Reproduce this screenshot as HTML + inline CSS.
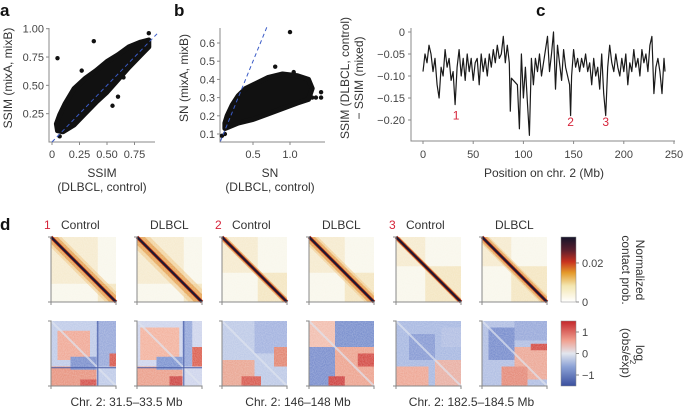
<!DOCTYPE html>
<html><head><meta charset="utf-8">
<style>
html,body{margin:0;padding:0;background:#fff;}
svg{display:block;font-family:"Liberation Sans",sans-serif;}
.tk{font-size:11px;fill:#444;}
.lb{font-size:12px;fill:#333;}
.pl{font-size:17px;font-weight:bold;fill:#111;}
.ax{stroke:#888;stroke-width:1;fill:none;}
</style></head>
<body>
<svg id="fig" width="685" height="410" viewBox="0 0 685 410" xmlns="http://www.w3.org/2000/svg">
<defs>
<linearGradient id="cbTop" x1="0" y1="1" x2="0" y2="0">
<stop offset="0" stop-color="#ffffff"/><stop offset="0.25" stop-color="#f3e6b0"/><stop offset="0.45" stop-color="#e49a2a"/><stop offset="0.62" stop-color="#c8311f"/><stop offset="0.8" stop-color="#5a1f2e"/><stop offset="1" stop-color="#14142a"/>
</linearGradient>
<linearGradient id="cbBot" x1="0" y1="1" x2="0" y2="0">
<stop offset="0" stop-color="#3a4f9e"/><stop offset="0.3" stop-color="#8da3d6"/><stop offset="0.5" stop-color="#e2e6ee"/><stop offset="0.7" stop-color="#f0a090"/><stop offset="1" stop-color="#c4262a"/>
</linearGradient>
<filter id="noise" x="0" y="0" width="1" height="1"><feTurbulence type="fractalNoise" baseFrequency="0.9" numOctaves="1" seed="3"/><feColorMatrix values="0 0 0 0 1  0 0 0 0 1  0 0 0 0 1  0 0 0 0.5 0"/><feComposite in2="SourceGraphic" operator="in"/></filter>
</defs>
<g id="pa"></g>
<g id="pb"></g>
<g id="pc"></g>
<g id="pd"></g>
</svg>
<script>
// ---- Panel a data ----
const aTicksY=[0.25,0.50,0.75,1.00];
const aTicksX=[0,0.25,0.50,0.75];
const aCloudX=[0.05,0.1,0.2,0.3,0.4,0.5,0.6,0.7,0.8,0.88,0.88,0.8,0.7,0.6,0.5,0.4,0.3,0.2,0.12,0.07,0.04];
const aCloudY=[0.10,0.09,0.15,0.25,0.35,0.44,0.55,0.66,0.76,0.84,0.90,0.88,0.84,0.77,0.71,0.63,0.56,0.47,0.34,0.24,0.16];
const aOutX=[0.05,0.38,0.88,0.27,0.55,0.60,0.52,0.65,0.07];
const aOutY=[0.74,0.89,0.96,0.63,0.32,0.40,0.47,0.57,0.05];
// ---- Panel b data ----
const bTicksY=[0.1,0.2,0.3,0.4,0.5,0.6];
const bTicksX=[0.5,1.0];
const bCloudX=[0.12,0.3,0.5,0.7,0.9,1.1,1.25,1.3,1.25,1.1,0.9,0.7,0.5,0.4,0.3,0.22,0.15,0.12];
const bCloudY=[0.13,0.16,0.18,0.21,0.24,0.27,0.29,0.35,0.40,0.42,0.43,0.41,0.37,0.35,0.31,0.26,0.20,0.16];
const bOutX=[1.0,0.8,1.42,1.42,1.35,1.30,0.12,0.08,1.05];
const bOutY=[0.66,0.47,0.33,0.30,0.30,0.30,0.10,0.09,0.44];
// ---- Panel c data ----
const cTicksY=[0,-0.05,-0.10,-0.15,-0.20];
const cTicksX=[0,50,100,150,200,250];
const cPos=[0,2,4,6,8,10,12,14,16,18,20,22,24,26,28,30,32,34,36,38,40,42,44,46,48,50,52,54,56,58,60,62,64,66,68,70,72,74,76,78,80,82,84,86,87,88,94,96,98,100,102,104,106,108,110,112,114,116,118,120,122,124,126,128,130,132,134,136,138,140,142,144,146,147,148,150,152,154,156,158,160,162,164,166,168,170,172,174,176,178,180,182,184,186,188,190,192,194,196,198,200,202,204,206,208,210,212,214,216,218,220,222,224,226,228,230,232,234,236,238,240,241];
const cVal=[-0.09,-0.05,-0.07,-0.03,-0.05,-0.09,-0.06,-0.12,-0.15,-0.08,-0.10,-0.04,-0.08,-0.06,-0.11,-0.09,-0.165,-0.08,-0.04,-0.10,-0.06,-0.11,-0.05,-0.09,-0.06,-0.11,-0.07,-0.06,-0.12,-0.05,-0.09,-0.06,-0.10,-0.05,-0.08,-0.04,-0.07,-0.03,-0.06,-0.05,-0.01,-0.07,-0.03,-0.07,-0.18,-0.105,-0.12,-0.22,-0.05,-0.15,-0.08,-0.16,-0.235,-0.06,-0.12,-0.06,-0.09,-0.05,-0.10,-0.07,-0.04,-0.01,-0.09,-0.05,0.0,-0.13,-0.03,-0.07,-0.11,-0.04,-0.08,-0.10,-0.12,-0.19,-0.10,-0.04,-0.08,-0.06,-0.09,-0.06,-0.08,-0.05,-0.09,-0.07,-0.12,-0.06,-0.10,-0.08,-0.13,-0.05,-0.14,-0.19,-0.08,-0.03,-0.07,-0.09,-0.05,-0.08,-0.10,-0.06,-0.09,-0.05,-0.12,-0.07,-0.09,-0.04,-0.08,-0.06,-0.10,-0.04,-0.07,-0.05,-0.09,-0.03,-0.01,-0.14,-0.08,-0.06,-0.09,-0.14,-0.06,-0.09];
const cMarks=["1","2","3"];
const cMarkPos=[33,147,182];
const cMarkVal=[-0.19,-0.205,-0.205];
// ---- Panel d ----
const dTitles=["Control","DLBCL","Control","DLBCL","Control","DLBCL"];
const dRegions=["Chr. 2: 31.5–33.5 Mb","Chr. 2: 146–148 Mb","Chr. 2: 182.5–184.5 Mb"];
const cbTopTicks=[0,0.02];
const cbBotTicks=[1,0,-1];

const NS="http://www.w3.org/2000/svg";
function mk(parent,tag,attrs,text){const e=document.createElementNS(NS,tag);for(const k in attrs)e.setAttribute(k,attrs[k]);if(text!==undefined)e.textContent=text;parent.appendChild(e);return e;}

// ===== Panel a =====
(function(){
const g=document.getElementById('pa');
const sx=v=>52+v*110, sy=v=>142-v*113.3;
let t=mk(g,'text',{x:0,y:16,class:'pl'},'a');


let ax=mk(g,'path',{d:'M49,28 V142 H155',class:'ax'});


aTicksY.forEach(v=>{mk(g,'line',{x1:46,x2:49,y1:sy(v),y2:sy(v),stroke:'#888'});
 let l=mk(g,'text',{x:44,y:sy(v)+4,'text-anchor':'end',class:'tk'},v.toFixed(2));
 
 });
aTicksX.forEach(v=>{mk(g,'line',{x1:sx(v),x2:sx(v),y1:142,y2:145,stroke:'#888'});
 let l=mk(g,'text',{x:sx(v),y:158,'text-anchor':'middle',class:'tk'},v===0?'0':v.toFixed(2));
 
 });
let pts=aCloudX.map((x,i)=>sx(x)+','+sy(aCloudY[i])).join(' ');
let cl=mk(g,'polygon',{points:pts,fill:'#111',stroke:'#111','stroke-width':5,'stroke-linejoin':'round'});


aOutX.forEach((x,i)=>{let c=mk(g,'circle',{cx:sx(x),cy:sy(aOutY[i]),r:2.2,fill:'#111'});
 
 });
let dl=mk(g,'line',{x1:sx(0),y1:sy(0),x2:sx(0.955),y2:sy(0.955),stroke:'#3a5bc7','stroke-width':1,'stroke-dasharray':'4,3'});


let xl=mk(g,'text',{x:102,y:177,'text-anchor':'middle',class:'lb'},'SSIM');


mk(g,'text',{x:102,y:191,'text-anchor':'middle',class:'lb'},'(DLBCL, control)');
let yl=mk(g,'text',{x:0,y:0,'text-anchor':'middle',class:'lb',transform:'translate(12,78) rotate(-90)'},'SSIM (mixA, mixB)');


})();

// ===== Panel b =====
(function(){
const g=document.getElementById('pb');
const sx=v=>216+v*74, sy=v=>134-(v-0.1)*182;
let t=mk(g,'text',{x:174,y:16,class:'pl'},'b');


let ax=mk(g,'path',{d:'M220,28 V142 H325',class:'ax'});


bTicksY.forEach(v=>{mk(g,'line',{x1:217,x2:220,y1:sy(v),y2:sy(v),stroke:'#888'});
 let l=mk(g,'text',{x:215,y:sy(v)+4,'text-anchor':'end',class:'tk'},v.toFixed(1));
 
 });
bTicksX.forEach(v=>{mk(g,'line',{x1:sx(v),x2:sx(v),y1:142,y2:145,stroke:'#888'});
 let l=mk(g,'text',{x:sx(v),y:158,'text-anchor':'middle',class:'tk'},v.toFixed(1));
 
 });
let pts=bCloudX.map((x,i)=>sx(x)+','+sy(bCloudY[i])).join(' ');
let cl=mk(g,'polygon',{points:pts,fill:'#111',stroke:'#111','stroke-width':5,'stroke-linejoin':'round'});


bOutX.forEach((x,i)=>{let c=mk(g,'circle',{cx:sx(x),cy:sy(bOutY[i]),r:2.2,fill:'#111'});
 
 });
let dl=mk(g,'line',{x1:sx(0.06),y1:sy(0.06),x2:sx(0.69),y2:sy(0.69),stroke:'#3a5bc7','stroke-width':1,'stroke-dasharray':'4,3'});


let xl=mk(g,'text',{x:270,y:177,'text-anchor':'middle',class:'lb'},'SN');


mk(g,'text',{x:270,y:191,'text-anchor':'middle',class:'lb'},'(DLBCL, control)');
let yl=mk(g,'text',{x:0,y:0,'text-anchor':'middle',class:'lb',transform:'translate(188,78) rotate(-90)'},'SN (mixA, mixB)');


})();

// ===== Panel c =====
(function(){
const g=document.getElementById('pc');
const sx=v=>423+v*1.004, sy=v=>32-v/0.05*22;
let t=mk(g,'text',{x:536,y:16,class:'pl'},'c');


let ax=mk(g,'path',{d:'M411,28 V141 H675',class:'ax'});


cTicksY.forEach(v=>{mk(g,'line',{x1:408,x2:411,y1:sy(v),y2:sy(v),stroke:'#888'});
 let l=mk(g,'text',{x:405,y:sy(v)+4,'text-anchor':'end',class:'tk'},v===0?'0':'−'+Math.abs(v).toFixed(2));
 
 });
cTicksX.forEach(v=>{mk(g,'line',{x1:sx(v),x2:sx(v),y1:141,y2:144,stroke:'#888'});
 let l=mk(g,'text',{x:sx(v),y:158,'text-anchor':'middle',class:'tk'},String(v));
 
 });
let d=cPos.map((x,i)=>(i?'L':'M')+sx(x).toFixed(1)+','+sy(cVal[i]).toFixed(1)).join(' ');
let ln=mk(g,'path',{d:d,fill:'none',stroke:'#1a1a1a','stroke-width':1.2,'stroke-linejoin':'round'});


cMarks.forEach((m,i)=>{let l=mk(g,'text',{x:sx(cMarkPos[i]),y:sy(cMarkVal[i])+4,'text-anchor':'middle',style:'font-size:12px;fill:#d6243a'},m);
 
 });
let xl=mk(g,'text',{x:544,y:177,'text-anchor':'middle',class:'lb'},'Position on chr. 2 (Mb)');


let yl=mk(g,'text',{x:0,y:0,'text-anchor':'middle',class:'lb',transform:'translate(349,78) rotate(-90)'},'SSIM (DLBCL, control)');


mk(g,'text',{x:0,y:0,'text-anchor':'middle',class:'lb',transform:'translate(363,78) rotate(-90)'},'− SSIM (mixed)');
})();

// ===== Panel d =====
(function(){
const g=document.getElementById('pd');
const xs=[51,137,222,309,396,482], W=65, topY=237, botY=321;
let t=mk(g,'text',{x:0,y:230,class:'pl'},'d');


const tadBreak=[0.72,0.72,0.55,0.55,0.45,0.45];
const bandW=[0.16,0.2,0.07,0.14,0.05,0.11];
const botLayouts=[
 [[0,0,1,1,'#b9c6e6'],[0.1,0.15,0.6,0.6,'#eea08c'],[0,0.7,0.7,1,'#e58a74'],[0.7,0,1,0.7,'#8ea0d6'],[0.3,0.55,0.7,0.75,'#6f85c8'],[0.9,0.5,1,0.7,'#d4483c'],[0.45,0.9,0.7,1,'#d0403a']],
 [[0,0,1,1,'#c9d0ea'],[0.05,0.1,0.65,0.6,'#f2ab95'],[0,0.7,0.7,1,'#e99680'],[0.7,0,0.85,0.7,'#8a9ed6'],[0.3,0.55,0.7,0.75,'#7089cc'],[0.85,0.4,1,0.7,'#d8503f'],[0.5,0.85,0.7,1,'#c83532']],
 [[0,0,1,1,'#b7c4e4'],[0,0.6,0.5,1,'#e79d88'],[0.5,0,1,0.5,'#9aabdc'],[0.8,0.4,1,0.7,'#df7a64'],[0.3,0.85,0.6,1,'#d44a3e']],
 [[0,0,1,1,'#c3cbe8'],[0,0,0.4,0.4,'#f0b7a6'],[0.4,0,1,0.4,'#6c84c8'],[0,0.4,0.4,1,'#6d83c8'],[0.4,0.4,1,1,'#eb9a84'],[0.75,0.5,1,0.7,'#cf3a33'],[0.3,0.85,0.55,1,'#c9302e']],
 [[0,0,1,1,'#9fb1de'],[0.2,0.2,0.6,0.6,'#7b90cf'],[0.6,0.6,1,1,'#e6a79a'],[0,0.7,0.5,1,'#ec9e8a'],[0.7,0.1,1,0.4,'#aab8e0']],
 [[0,0,1,1,'#a9b8e0'],[0.1,0.1,0.5,0.6,'#6b82c8'],[0.5,0.4,1,0.9,'#ea9f8c'],[0.3,0.7,0.7,1,'#e27f6c'],[0.75,0.35,1,0.45,'#cf3a33'],[0.5,0,1,0.3,'#8ea0d6']]
];
xs.forEach((x0,i)=>{
 if(i%2===0){let n=mk(g,'text',{x:x0-7,y:229,style:'font-size:12px;fill:#d6243a'},String(i/2+1));
  
  }
 let ti=mk(g,'text',{x:i%2===0?x0+10:x0+13,y:229,class:'lb'},dTitles[i]);
 
 
 let tg=mk(g,'g',{});
 
 
 mk(tg,'rect',{x:x0,y:topY,width:W,height:W,fill:'#f8f6ea'});
 const b=tadBreak[i]*W, bw=bandW[i]*W;
 mk(tg,'polygon',{points:`${x0},${topY} ${x0+b},${topY} ${x0+b},${topY+b} ${x0},${topY+b}`,fill:'#f3e4bd',opacity:0.7});
 mk(tg,'polygon',{points:`${x0+b},${topY+b} ${x0+W},${topY+b} ${x0+W},${topY+W} ${x0+b},${topY+W}`,fill:'#f1ddaa',opacity:0.7});
 mk(tg,'polygon',{points:`${x0},${topY} ${x0+bw},${topY} ${x0+W},${topY+W-bw} ${x0+W},${topY+W} ${x0+W-bw},${topY+W} ${x0},${topY+bw}`,fill:'#eec27a',opacity:0.6});
 const bw2=bw*0.45+2;
 mk(tg,'polygon',{points:`${x0},${topY} ${x0+bw2},${topY} ${x0+W},${topY+W-bw2} ${x0+W},${topY+W} ${x0+W-bw2},${topY+W} ${x0},${topY+bw2}`,fill:'#e08a2c',opacity:0.7});
 mk(tg,'rect',{x:x0,y:topY,width:W,height:W,fill:'#fff',filter:'url(#noise)',opacity:0.7});
 mk(tg,'line',{x1:x0,y1:topY,x2:x0+W,y2:topY+W,stroke:'#b8321c','stroke-width':3.5});
 mk(tg,'line',{x1:x0,y1:topY,x2:x0+W,y2:topY+W,stroke:'#1c1830','stroke-width':2});
 mk(tg,'path',{d:`M${x0-3},${topY} H${x0} V${topY+W+3} M${x0-3},${topY+W} H${x0+W} V${topY+W+3}`,class:'ax'});
 let bg=mk(g,'g',{});
 
 
 botLayouts[i].forEach(r=>{mk(bg,'rect',{x:x0+r[0]*W,y:botY+r[1]*W,width:(r[2]-r[0])*W,height:(r[3]-r[1])*W,fill:r[4]});});
 mk(bg,'rect',{x:x0,y:botY,width:W,height:W,fill:'#fff',filter:'url(#noise)',opacity:0.8});
 mk(bg,'line',{x1:x0,y1:botY,x2:x0+W,y2:botY+W,stroke:'#dfe4ef','stroke-width':2,opacity:0.7});
 if(i<2){mk(bg,'line',{x1:x0,y1:botY+0.72*W,x2:x0+W,y2:botY+0.72*W,stroke:'#4a5ea8','stroke-width':1});
  mk(bg,'line',{x1:x0+0.72*W,y1:botY,x2:x0+0.72*W,y2:botY+W,stroke:'#4a5ea8','stroke-width':1});}
 mk(bg,'path',{d:`M${x0-3},${botY} H${x0} V${botY+W+3} M${x0-3},${botY+W} H${x0+W} V${botY+W+3}`,class:'ax'});
});
dRegions.forEach((r,i)=>{let l=mk(g,'text',{x:(xs[2*i]+xs[2*i+1]+W)/2,y:406,'text-anchor':'middle',class:'lb'},r);
 
 });
let c1=mk(g,'rect',{x:561,y:237,width:15,height:65,fill:'url(#cbTop)',stroke:'#888','stroke-width':0.5});


const cs1=v=>302-v/0.0333*65;
cbTopTicks.forEach(v=>{mk(g,'line',{x1:576,x2:579,y1:cs1(v),y2:cs1(v),stroke:'#888'});
 mk(g,'text',{x:582,y:cs1(v)+4,class:'tk'},v===0?'0':String(v));});
let c2=mk(g,'rect',{x:561,y:321,width:15,height:65,fill:'url(#cbBot)',stroke:'#888','stroke-width':0.5});


const cs2=v=>353.5-v*21.5;
cbBotTicks.forEach(v=>{mk(g,'line',{x1:576,x2:579,y1:cs2(v),y2:cs2(v),stroke:'#888'});
 mk(g,'text',{x:582,y:cs2(v)+4,class:'tk'},v<0?'−'+Math.abs(v):String(v));});
let t1=mk(g,'text',{x:0,y:0,'text-anchor':'middle',class:'lb',transform:'translate(636,270) rotate(90)'},'Normalized');


mk(g,'text',{x:0,y:0,'text-anchor':'middle',class:'lb',transform:'translate(622,270) rotate(90)'},'contact prob.');
let t2=mk(g,'text',{x:0,y:0,'text-anchor':'middle',class:'lb',transform:'translate(636,353) rotate(90)'},'log');


mk(g,'text',{x:0,y:0,'text-anchor':'middle',style:'font-size:8px;fill:#333',transform:'translate(630,362) rotate(90)'},'2');
mk(g,'text',{x:0,y:0,'text-anchor':'middle',class:'lb',transform:'translate(622,353) rotate(90)'},'(obs/exp)');
})();
</script>
</body></html>
